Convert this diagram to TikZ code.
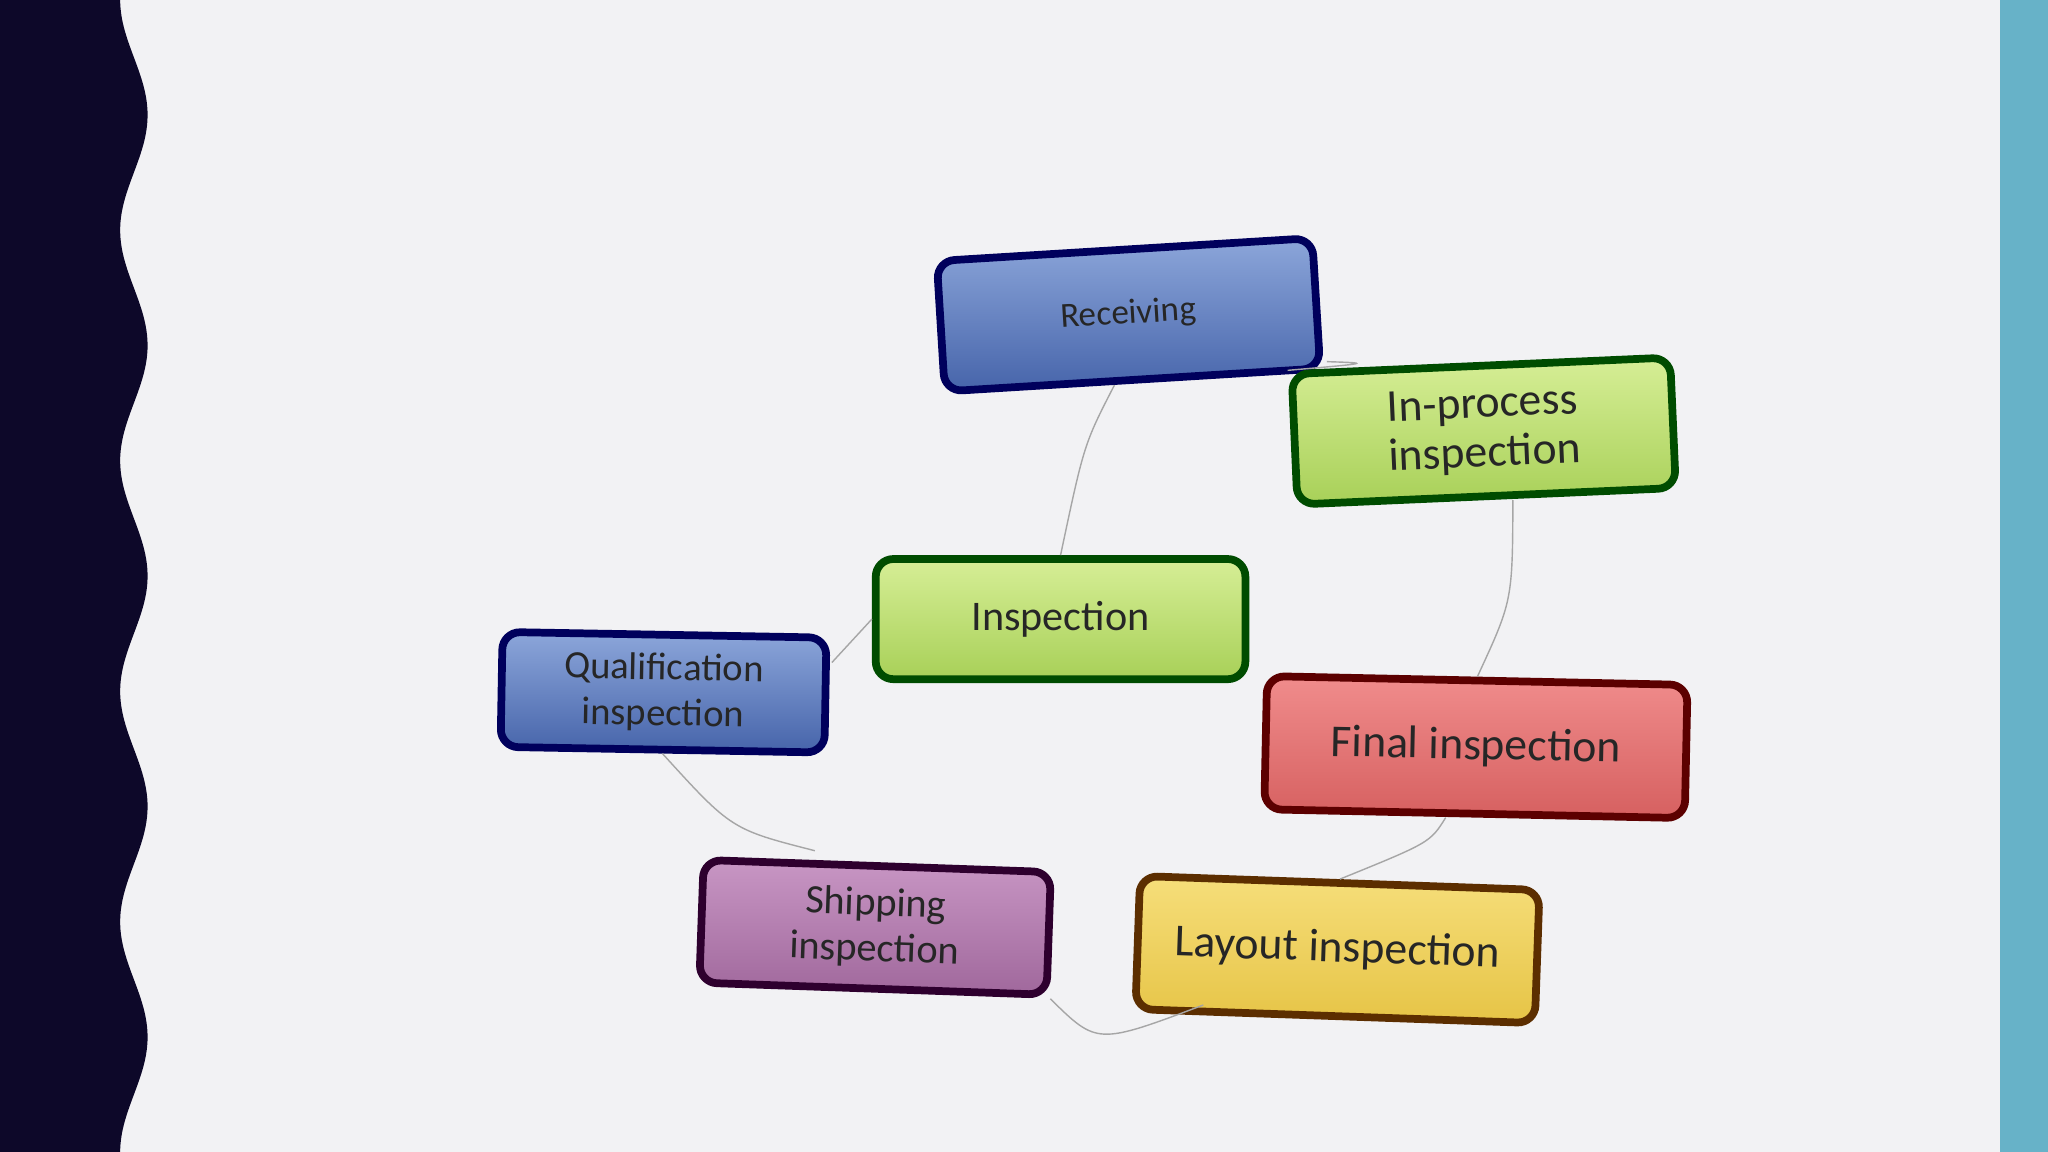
\documentclass[tikz,border=0pt]{standalone}
\usepackage{fontspec}
\setmainfont{Carlito}
\begin{document}
\begin{tikzpicture}[x=0.013061cm,y=-0.013061cm,
  box/.style={draw=#1!60!black,line width=2.2pt,rounded corners=5pt,align=center,text=black!85,inner sep=2pt},
  blu/.style={box=blue!60!black,top color={rgb,255:red,140;green,166;blue,218},bottom color={rgb,255:red,70;green,100;blue,170}},
  grn/.style={box=green!50!black,top color={rgb,255:red,214;green,238;blue,150},bottom color={rgb,255:red,168;green,208;blue,88}},
  red/.style={box=red!60!black,top color={rgb,255:red,240;green,140;blue,140},bottom color={rgb,255:red,214;green,96;blue,96}},
  yel/.style={box=orange!60!black,top color={rgb,255:red,246;green,222;blue,122},bottom color={rgb,255:red,230;green,196;blue,70}},
  pur/.style={box=violet!60!black,top color={rgb,255:red,200;green,150;blue,196},bottom color={rgb,255:red,160;green,104;blue,156}},
  con/.style={draw=gray!70,line width=0.4pt}]
\useasboundingbox (0,0) rectangle (1568,882);
\fill[fill={rgb,255:red,242;green,242;blue,244}] (0,0) rectangle (1568,882);
\fill[fill={rgb,255:red,103;green,178;blue,200}] (1531,0) rectangle (1568,882);
\fill[fill={rgb,255:red,13;green,8;blue,41}] (0,-5) -- plot[domain=-5:887,samples=240] ({102.5+10.5*cos(2.0397*(\x-88))},\x) -- (0,887) -- cycle;

\node[blu,rotate=3.5,minimum width=288*0.013061cm,minimum height=100*0.013061cm,font=\fontsize{10}{12}\selectfont] (rec) at (864,241) {Receiving};
\node[grn,rotate=2.5,minimum width=290*0.013061cm,minimum height=100*0.013061cm,font=\fontsize{13}{14}\selectfont] (inp) at (1136,330) {In-process\\inspection};
\node[grn,minimum width=283*0.013061cm,minimum height=92*0.013061cm,font=\fontsize{12}{14}\selectfont] (ins) at (812,474) {Inspection};
\node[blu,rotate=-1,minimum width=248*0.013061cm,minimum height=88*0.013061cm,font=\fontsize{11}{13}\selectfont] (qua) at (508,530) {Qualification\\inspection};
\node[red,rotate=-1.2,minimum width=322*0.013061cm,minimum height=102*0.013061cm,font=\fontsize{13}{15}\selectfont] (fin) at (1130,572) {Final inspection};
\node[yel,rotate=-2,minimum width=306*0.013061cm,minimum height=102*0.013061cm,font=\fontsize{13}{15}\selectfont] (lay) at (1024,727) {Layout inspection};
\node[pur,rotate=-2,minimum width=266*0.013061cm,minimum height=94*0.013061cm,font=\fontsize{11.5}{13}\selectfont] (shp) at (670,710) {Shipping\\inspection};

\draw[con] (rec.south) ++(-14,1) coordinate (a1) (a1) .. controls (830,340) .. (ins.north);
\draw[con] (rec.south east) ++(2,-8) coordinate (a2) (a2) .. controls (1050,278) .. (inp.north west);
\draw[con] (inp.south) ++(20,0) coordinate (a3) (a3) .. controls (1158,460) .. (fin.north);
\draw[con] (fin.south) ++(-22,0) coordinate (a4) (a4) .. controls (1095,645) .. (lay.north);
\draw[con] (lay.south west) ++(55,-6) coordinate (a5) (a5) .. controls (840,800) .. (shp.south east);
\draw[con] (shp.north west) ++(88,-4) coordinate (a6) (a6) .. controls (560,635) .. (qua.south);
\draw[con] (qua.east) ++(2,-25) coordinate (a7) (a7) -- (ins.west);
\end{tikzpicture}
\end{document}
